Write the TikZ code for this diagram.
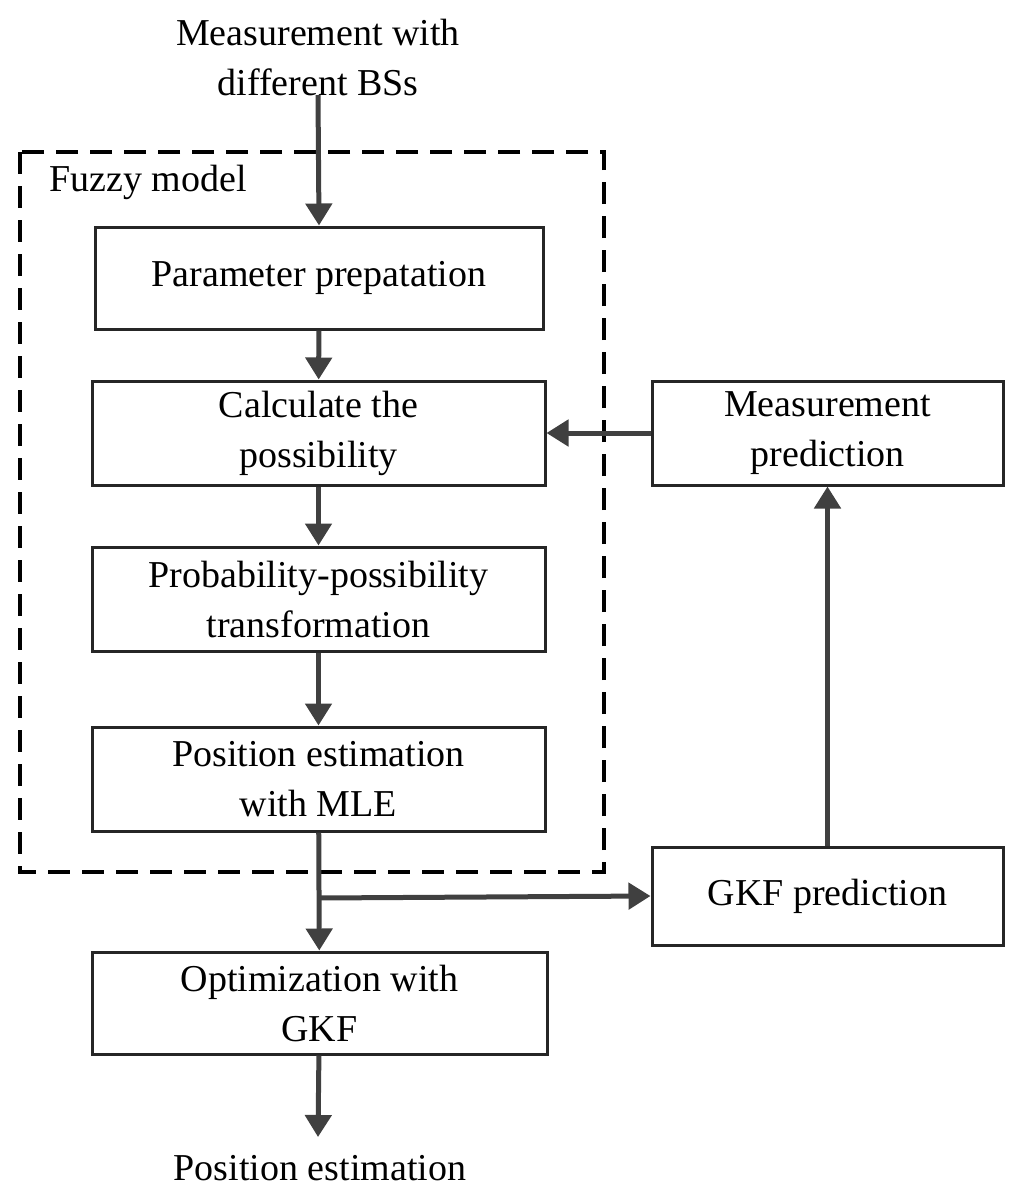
\documentclass[tikz,border=0pt]{standalone}
\usepackage{fontspec}
\setmainfont{Liberation Serif}
\usetikzlibrary{arrows.meta}
\begin{document}
\begin{tikzpicture}[x=1pt,y=-1pt,
  box/.style={draw=black!85,line width=3pt,align=center,inner sep=0pt,font=\fontsize{38}{50}\selectfont},
  txt/.style={align=center,font=\fontsize{38}{50}\selectfont},
  arr/.style={draw=black!75,line width=5pt,-{Triangle[length=22pt,width=26pt]}}]
\useasboundingbox (0,0) rectangle (1024,1197);
\draw[dashed,line width=3.5pt,dash pattern=on 22pt off 12pt] (20,152) rectangle (604,872);
\node[txt,anchor=west] (fz) at (46,182) {Fuzzy model};
\node[txt] (top) at (318,57) {Measurement with\\different BSs};
\node[box,minimum width=448pt,minimum height=102pt] (p) at (319,278) {Parameter prepatation};
\node[box,minimum width=453pt,minimum height=104pt] (c) at (318.5,433) {Calculate the\\possibility};
\node[box,minimum width=453pt,minimum height=104pt] (pp) at (318.5,599) {Probability-possibility\\transformation};
\node[box,minimum width=453pt,minimum height=104pt] (pe) at (318.5,779) {Position estimation\\with MLE};
\node[box,minimum width=455pt,minimum height=102pt] (o) at (319.5,1003) {Optimization with\\GKF};
\node[box,minimum width=351pt,minimum height=104pt] (mp) at (827.5,433) {Measurement\\prediction};
\node[box,minimum width=351pt,minimum height=98pt] (g) at (827.5,896) {GKF prediction};
\node[txt] (out) at (320,1168) {Position estimation};
\coordinate (ts) at (318,95);
\coordinate (oe) at (318,1137);
\coordinate (br) at (318,898);
\draw[arr] (ts) -- (p.north);
\draw[arr] (p) -- (c);
\draw[arr] (c) -- (pp);
\draw[arr] (pp) -- (pe);
\draw[arr] (pe) -- (o);
\draw[arr] (br) -- (g.west);
\draw[arr] (g) -- (mp);
\draw[arr] (mp) -- (c);
\draw[arr] (o) -- (oe);
\end{tikzpicture}
\end{document}
